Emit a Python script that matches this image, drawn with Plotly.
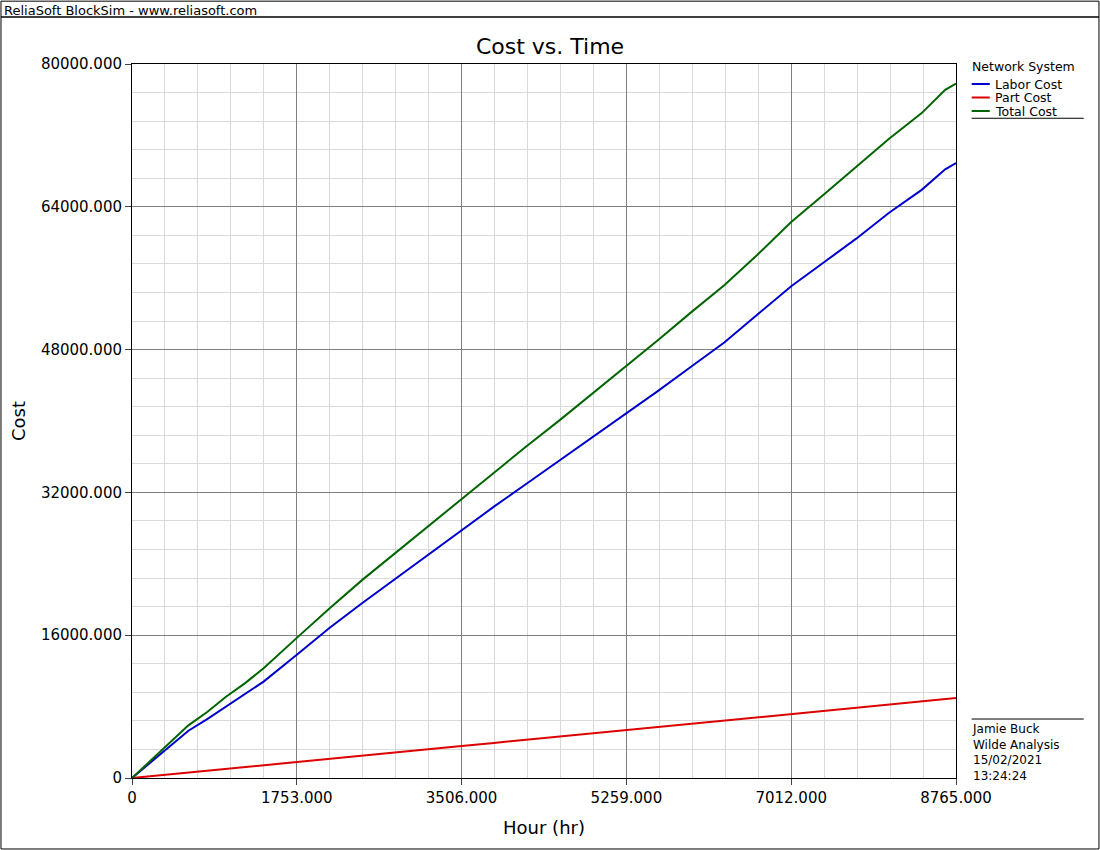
import plotly.graph_objects as go

hours = [0, 200, 400, 600, 800, 1000, 1200, 1400, 1753, 2100, 2450, 2800, 3150, 3506,
         3850, 4200, 4550, 4900, 5259, 5600, 5950, 6300, 6650, 7012, 7350, 7700, 8050, 8400, 8650, 8765]
labor = [0, 1800, 3500, 5300, 6600, 8000, 9400, 10800, 13800, 16800, 19600, 22300, 25000, 27800,
         30400, 33000, 35600, 38100, 40800, 43400, 46100, 48800, 51900, 55100, 57700, 60400, 63300, 65900, 68200, 68900]
part = [0, 200, 400, 610, 810, 1020, 1220, 1430, 1790, 2140, 2500, 2860, 3210, 3580,
        3930, 4290, 4640, 5000, 5370, 5720, 6070, 6430, 6790, 7160, 7500, 7860, 8220, 8580, 8840, 8950]
total = [0, 2000, 3900, 5900, 7400, 9100, 10600, 12300, 15700, 19000, 22200, 25200, 28200, 31300,
         34200, 37200, 40100, 43100, 46100, 49100, 52200, 55200, 58600, 62300, 65300, 68400, 71600, 74500, 77100, 77800]

series = [("Labor Cost", labor, "#0000cc"), ("Part Cost", part, "#dd0000"), ("Total Cost", total, "#006400")]

fig = go.Figure()
for name, vals, col in series:
    fig.add_trace(go.Scatter(x=hours, y=vals, name=name, line=dict(color=col, width=2), showlegend=False))

annotations = [
    dict(text="ReliaSoft BlockSim - www.reliasoft.com", xref="paper", yref="paper",
         x=-0.158, y=1.088, xanchor="left", yanchor="top", showarrow=False, font=dict(size=13)),
    dict(text="Jamie Buck<br>Wilde Analysis<br>15/02/2021<br>13:24:24", xref="paper", yref="paper",
         x=1.017, y=0.081, xanchor="left", yanchor="top", align="left", showarrow=False, font=dict(size=12)),
    dict(text="Network System", xref="paper", yref="paper", x=1.017, y=0.996, xanchor="left",
         yanchor="middle", showarrow=False, font=dict(size=12.5)),
]
shapes = [
    dict(type="rect", xref="paper", yref="paper", x0=-0.159, x1=1.1735, y0=-0.0994, y1=1.088,
         line=dict(color="black", width=1)),
    dict(type="line", xref="paper", yref="paper", x0=-0.159, x1=1.1735, y0=1.066, y1=1.066,
         line=dict(color="black", width=1.5)),
    dict(type="line", xref="paper", yref="paper", x0=1.019, x1=1.155, y0=0.924, y1=0.924,
         line=dict(color="black", width=1)),
    dict(type="line", xref="paper", yref="paper", x0=1.019, x1=1.155, y0=0.0826, y1=0.0826,
         line=dict(color="black", width=1)),
]
# hand-made legend, tighter than plotly's own
for i, (name, vals, col) in enumerate(series):
    ly = (778 - (84 + 13.5 * i)) / 714
    annotations.append(dict(text=name, xref="paper", yref="paper", x=1.045, y=ly, xanchor="left",
                            yanchor="middle", showarrow=False, font=dict(size=12.5)))
    shapes.append(dict(type="line", xref="paper", yref="paper", x0=1.019, x1=1.041, y0=ly, y1=ly,
                       line=dict(color=col, width=2)))

fig.update_layout(
    width=1100, height=850,
    paper_bgcolor="white", plot_bgcolor="white",
    font=dict(family="DejaVu Sans", color="black", size=14),
    title=dict(text="Cost vs. Time", x=0.5, xanchor="center", y=0.946, yanchor="middle", font=dict(size=22)),
    margin=dict(l=132, r=144, t=64, b=72),
    annotations=annotations,
    shapes=shapes,
)
fig.update_xaxes(range=[0, 8765], tickvals=[0, 1753, 3506, 5259, 7012, 8765],
                 ticktext=["0", "1753.000", "3506.000", "5259.000", "7012.000", "8765.000"],
                 showgrid=True, gridcolor="#808080", gridwidth=1,
                 minor=dict(dtick=350.6, tick0=0, showgrid=True, gridcolor="#d9d9d9"),
                 showline=True, linecolor="black", mirror=True, ticks="outside", ticklen=6,
                 zeroline=False, automargin=False,
                 title=dict(text="Hour (hr)", font=dict(size=18)), tickfont=dict(size=15))
fig.update_yaxes(range=[0, 80000], tickvals=[0, 16000, 32000, 48000, 64000, 80000],
                 ticktext=["0", "16000.000", "32000.000", "48000.000", "64000.000", "80000.000"],
                 showgrid=True, gridcolor="#808080", gridwidth=1,
                 minor=dict(dtick=3200, tick0=0, showgrid=True, gridcolor="#d9d9d9"),
                 showline=True, linecolor="black", mirror=True, ticks="outside", ticklen=6,
                 zeroline=False, automargin=False,
                 title=dict(text="Cost", font=dict(size=18), standoff=10), tickfont=dict(size=15))

fig.write_html("out.html", config={"displayModeBar": False},
               post_script="document.body.style.margin='0';")
